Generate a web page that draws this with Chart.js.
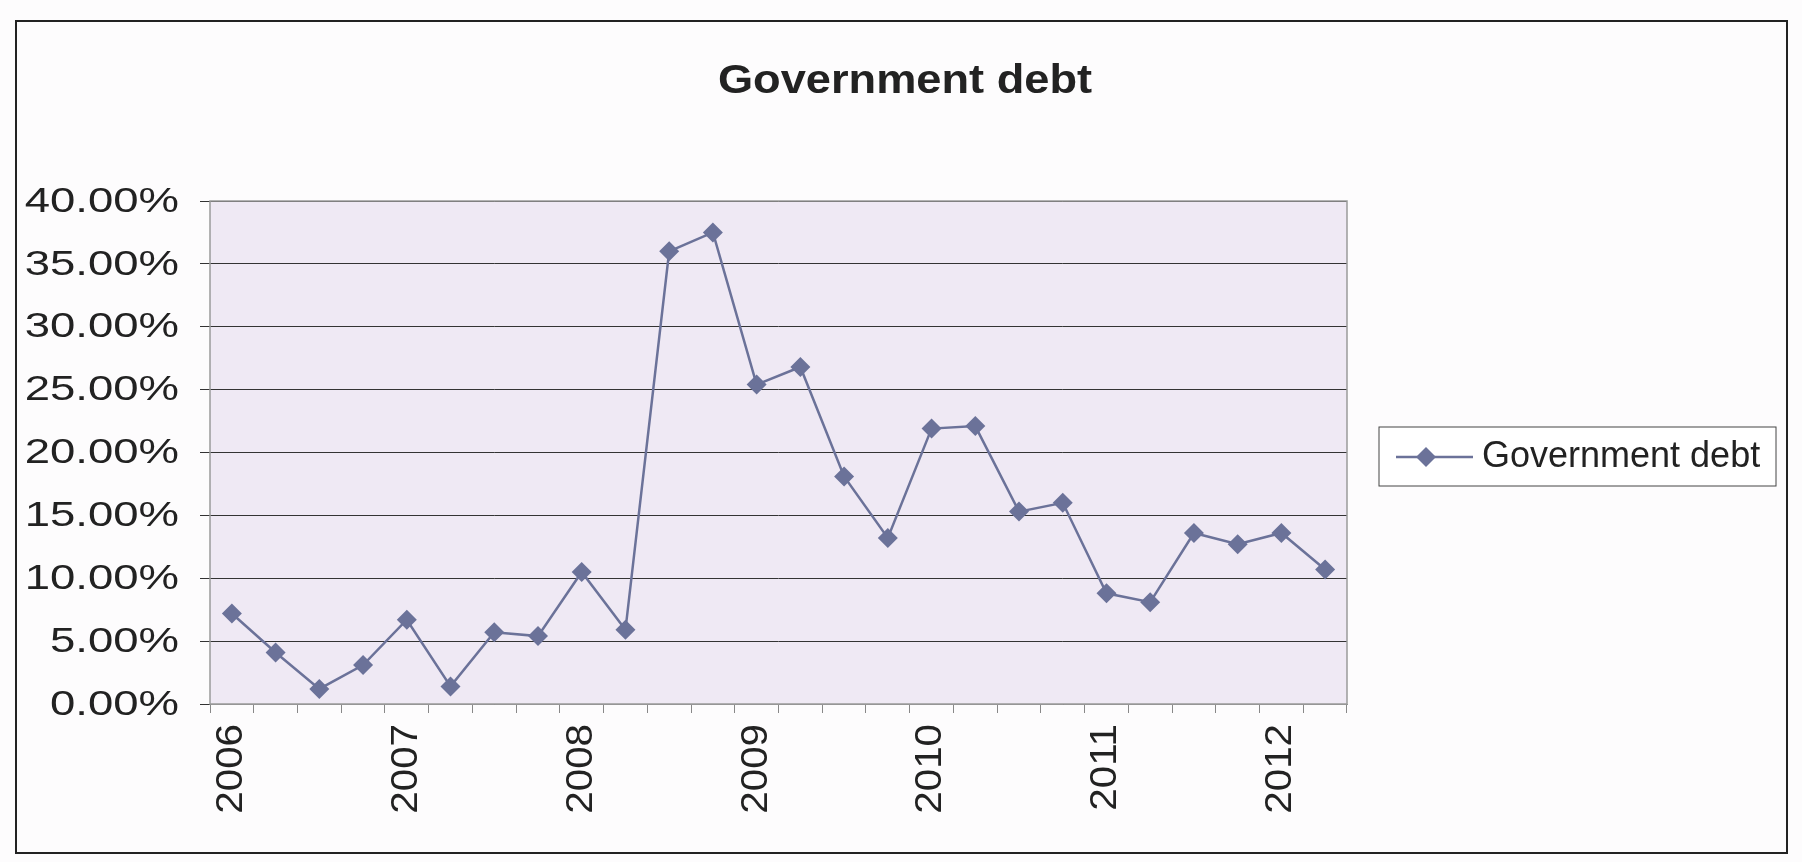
<!DOCTYPE html>
<html>
<head>
<meta charset="utf-8">
<script src="https://cdn.jsdelivr.net/npm/chart.js@4"></script>
<style>
  html, body { margin: 0; padding: 0; background: #fff; }
  #wrap { width: 1802px; height: 862px; }
</style>
</head>
<body>
<div id="wrap"><canvas id="chartLine"></canvas></div>
<script>
const categories = ['2006','','','','2007','','','','2008','','','','2009','','','','2010','','','','2011','','','','2012',''];
const debtValues = [7.2, 4.1, 1.2, 3.1, 6.7, 1.4, 5.7, 5.4, 10.5, 5.9, 36.0, 37.5, 25.4, 26.8, 18.1, 13.2, 21.9, 22.1, 15.3, 16.0, 8.8, 8.1, 13.6, 12.7, 13.6, 10.7];
const yTicks = [0, 5, 10, 15, 20, 25, 30, 35, 40];
const seriesName = 'Government debt';
const chartTitle = 'Government debt';

const lineColor = '#6b7299';
const font = 'Liberation Sans, Arial, sans-serif';

// text with a horizontal stretch, like the scanned original
function wideText(ctx, text, x, y, sx) {
    ctx.save();
    ctx.translate(x, y);
    ctx.scale(sx, 1);
    ctx.fillText(text, 0, 0);
    ctx.restore();
}

const framePlugin = {
    id: 'frame',
    beforeDraw({ ctx, chartArea }) {
        ctx.save();
        ctx.fillStyle = '#fdfcfd';
        ctx.fillRect(0, 0, 1802, 862);
        ctx.strokeStyle = '#222';
        ctx.lineWidth = 2;
        ctx.strokeRect(16, 21, 1771, 832);
        ctx.fillStyle = '#efe9f4';
        ctx.fillRect(chartArea.left, chartArea.top, chartArea.right - chartArea.left, chartArea.bottom - chartArea.top);
        ctx.restore();
    },
    afterDraw({ ctx, chartArea, scales }) {
        ctx.save();
        ctx.strokeStyle = '#9a9a9a';
        ctx.lineWidth = 1.5;
        ctx.strokeRect(chartArea.left, chartArea.top, chartArea.right - chartArea.left, chartArea.bottom - chartArea.top);
        ctx.fillStyle = '#222';
        // title
        ctx.font = `bold 40px ${font}`;
        ctx.textAlign = 'center';
        ctx.textBaseline = 'middle';
        wideText(ctx, chartTitle, 905, 82, 1.13);
        // y tick labels
        ctx.font = `35px ${font}`;
        ctx.textAlign = 'right';
        yTicks.forEach(v => {
            wideText(ctx, v.toFixed(2) + '%', 179, scales.y.getPixelForValue(v) + 1, 1.3);
        });
        // rotated year labels
        ctx.font = `36px ${font}`;
        categories.forEach((c, i) => {
            if (!c) return;
            const x = scales.x.getPixelForValue(i);
            ctx.save();
            ctx.translate(x, chartArea.bottom + 20);
            ctx.rotate(-Math.PI / 2);
            ctx.scale(1.12, 1);
            ctx.fillText(c, 0, 0);
            ctx.restore();
        });
        // legend
        ctx.fillStyle = '#fff';
        ctx.fillRect(1379, 427, 397, 59);
        ctx.strokeStyle = '#444';
        ctx.lineWidth = 1;
        ctx.strokeRect(1379, 427, 397, 59);
        ctx.strokeStyle = lineColor;
        ctx.lineWidth = 2.5;
        ctx.beginPath();
        ctx.moveTo(1396, 457);
        ctx.lineTo(1473, 457);
        ctx.stroke();
        ctx.fillStyle = lineColor;
        ctx.beginPath();
        ctx.moveTo(1426, 447); ctx.lineTo(1436, 457); ctx.lineTo(1426, 467); ctx.lineTo(1416, 457);
        ctx.closePath();
        ctx.fill();
        ctx.fillStyle = '#222';
        ctx.font = `36px ${font}`;
        ctx.textAlign = 'left';
        ctx.fillText(seriesName, 1482, 457);
        ctx.restore();
    }
};

new Chart(document.getElementById('chartLine').getContext('2d'), {
    type: 'line',
    data: {
        labels: categories,
        datasets: [{
            label: seriesName,
            data: debtValues,
            borderColor: lineColor,
            backgroundColor: lineColor,
            borderWidth: 2.5,
            pointStyle: 'rectRot',
            pointRadius: 10,
            pointBorderWidth: 0,
            tension: 0
        }]
    },
    options: {
        responsive: true,
        maintainAspectRatio: false,
        animation: false,
        layout: { padding: { top: 201, right: 455, left: 0, bottom: 0 } },
        plugins: { legend: { display: false }, tooltip: { enabled: false } },
        scales: {
            x: {
                offset: true,
                afterFit(scale) { scale.height = 158; },
                grid: { offset: true, drawOnChartArea: false, tickLength: 9, color: '#888' },
                border: { color: '#888' },
                ticks: { display: false }
            },
            y: {
                min: 0,
                max: 40,
                afterFit(scale) { scale.width = 210; },
                ticks: { stepSize: 5, display: false },
                grid: { color: '#333', lineWidth: 1, tickLength: 10 },
                border: { display: false }
            }
        }
    },
    plugins: [framePlugin]
});
</script>
</body>
</html>
